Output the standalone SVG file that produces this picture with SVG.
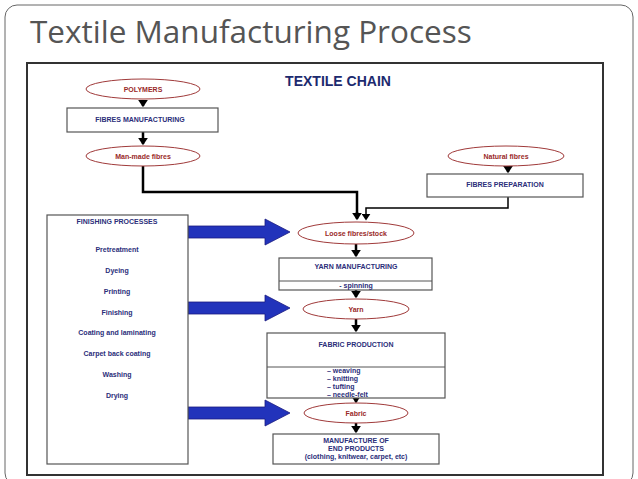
<svg xmlns="http://www.w3.org/2000/svg" width="638" height="479" viewBox="0 0 638 479">
<style>
.t{font-family:"Liberation Sans",Arial,sans-serif;font-weight:bold;font-size:7px;fill:#2b2e7a;text-anchor:middle}
.t.l{text-anchor:start}
.r{font-family:"Liberation Sans",Arial,sans-serif;font-weight:bold;font-size:7px;fill:#9a2a2a;text-anchor:middle}
.b{fill:#fff;stroke:#555;stroke-width:1.2}
.e{fill:#fff;stroke:#a03a3a;stroke-width:1}
.c{fill:none;stroke:#000;stroke-width:2.5}
.bl{fill:#2233bb;stroke:#1a1a80;stroke-width:0.8}
</style>
<defs><marker id="a" markerWidth="4" markerHeight="4" refX="2.5" refY="2" orient="auto" markerUnits="strokeWidth"><path d="M0,0L3,2L0,4z" fill="#000"/></marker>
<marker id="a2" markerWidth="6" markerHeight="6" refX="3.5" refY="3" orient="auto" markerUnits="strokeWidth"><path d="M0,0L4.5,3L0,6z" fill="#000"/></marker></defs>
<rect width="638" height="479" fill="#fff"/>
<rect x="5" y="5" width="628" height="480" rx="12" fill="none" stroke="#666" stroke-width="1"/>
<text x="30" y="43" font-family="'Open Sans','Liberation Sans',sans-serif" font-size="31.5" fill="#555">Textile Manufacturing Process</text>
<rect x="27" y="63" width="576" height="412" fill="#fff" stroke="#333" stroke-width="2"/>
<text x="338" y="86" font-family="'Liberation Sans',Arial,sans-serif" font-weight="bold" font-size="14" fill="#1c2a6e" text-anchor="middle">TEXTILE CHAIN</text>
<g id="connectors">
<path class="c" d="M143,100V106" marker-end="url(#a)"/>
<path class="c" d="M143,132V144" marker-end="url(#a)"/>
<path class="c" d="M143,166V192H357V218"/>
<path class="c" d="M357,212V219" marker-end="url(#a)"/>
<path d="M508,163V172" class="c" marker-end="url(#a)"/>
<path d="M508,197V208H366V219" fill="none" stroke="#000" stroke-width="1.5" marker-end="url(#a2)"/>
<path class="c" d="M356,244V256" marker-end="url(#a)"/>
<path class="c" d="M356,290V297" marker-end="url(#a)"/>
<path class="c" d="M356,319V331" marker-end="url(#a)"/>
<path class="c" d="M356,398V402" marker-end="url(#a)"/>
<path class="c" d="M356,423V432" marker-end="url(#a)"/>
<path class="bl" d="M188,226H265V219L290,232L265,245V238H188z"/>
<path class="bl" d="M188,302H265V295L290,308L265,321V314H188z"/>
<path class="bl" d="M188,407H265V400L290,413L265,426V419H188z"/>
</g>
<g id="polymers"><ellipse class="e" cx="143" cy="89" rx="57" ry="10"/><text class="r" x="143" y="92">POLYMERS</text></g>
<g id="fibresmfg"><rect class="b" x="67" y="108" width="151" height="24"/><text class="t" x="140" y="122">FIBRES MANUFACTURING</text></g>
<g id="manmade"><ellipse class="e" cx="143" cy="156" rx="57" ry="10"/><text class="r" x="143" y="159">Man-made fibres</text></g>
<g id="natural"><ellipse class="e" cx="506" cy="156" rx="58" ry="10"/><text class="r" x="506" y="159">Natural fibres</text></g>
<g id="fibresprep"><rect class="b" x="427" y="174" width="156" height="23"/><text class="t" x="505" y="187">FIBRES PREPARATION</text></g>
<g id="loose"><ellipse class="e" cx="356" cy="233" rx="58" ry="11"/><text class="r" x="356" y="236">Loose fibres/stock</text></g>
<g id="finishing"><rect class="b" x="47" y="215" width="141" height="249"/>
<text class="t" x="117" y="224">FINISHING PROCESSES</text>
<text class="t" x="117" y="252">Pretreatment</text><text class="t" x="117" y="273">Dyeing</text><text class="t" x="117" y="294">Printing</text><text class="t" x="117" y="315">Finishing</text><text class="t" x="117" y="335">Coating and laminating</text><text class="t" x="117" y="356">Carpet back coating</text><text class="t" x="117" y="377">Washing</text><text class="t" x="117" y="398">Drying</text></g>
<g id="yarnmfg"><rect class="b" x="279" y="258" width="153" height="32"/><line x1="279" y1="281" x2="432" y2="281" stroke="#555"/><text class="t" x="356" y="269">YARN MANUFACTURING</text><text class="t" x="356" y="288">- spinning</text></g>
<g id="yarn"><ellipse class="e" cx="356" cy="309" rx="53" ry="10"/><text class="r" x="356" y="312">Yarn</text></g>
<g id="fabricprod"><rect class="b" x="267" y="333" width="178" height="65"/><line x1="267" y1="367" x2="445" y2="367" stroke="#555"/><text class="t" x="356" y="347">FABRIC PRODUCTION</text>
<text class="t l" x="327" y="373">– weaving</text><text class="t l" x="327" y="381">– knitting</text><text class="t l" x="327" y="389">– tufting</text><text class="t l" x="327" y="397">– needle-felt</text></g>
<g id="fabric"><ellipse class="e" cx="356" cy="413" rx="52" ry="10"/><text class="r" x="356" y="416">Fabric</text></g>
<g id="endproducts"><rect class="b" x="273" y="434" width="166" height="30"/><text class="t" x="356" y="443">MANUFACTURE OF</text><text class="t" x="356" y="451">END PRODUCTS</text><text class="t" x="356" y="459">(clothing, knitwear, carpet, etc)</text></g>
</svg>
